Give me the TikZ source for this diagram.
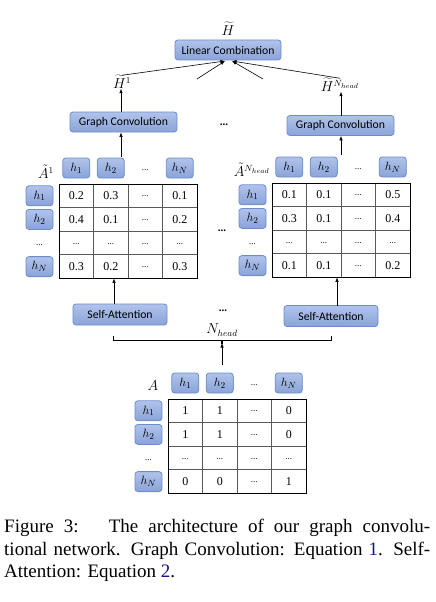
\documentclass[tikz,border=0pt]{standalone}
\usepackage{fontspec}
\usetikzlibrary{arrows.meta}
\setmainfont{Liberation Serif}
\newfontfamily\boxfont{Carlito}
\definecolor{boxtop}{RGB}{176,195,234}
\definecolor{boxbot}{RGB}{138,163,216}
\definecolor{boxline}{RGB}{108,140,204}
\definecolor{reflink}{RGB}{20,20,140}
\newcommand\dd{\raisebox{-2.5pt}{\fontsize{9}{10}\selectfont...}}
\tikzset{
  bluebox/.style={draw=boxline, line width=0.8pt, rounded corners=3pt, top color=boxtop, bottom color=boxbot, inner sep=0pt, font=\boxfont\fontsize{11.7}{13}\selectfont},
  hbox/.style={bluebox, minimum width=27pt, minimum height=20pt, font=\fontsize{12.5}{14}\selectfont},
  conn/.style={line width=0.6pt, -{Latex[length=4.5pt,width=3.5pt]}},
  gridin/.style={line width=0.9pt, black!65},
  gridout/.style={line width=1pt, black},
  cell/.style={font=\fontsize{12}{14}\selectfont, inner sep=0pt},
  dcell/.style={font=\fontsize{9}{10}\selectfont, inner sep=0pt},
  mlab/.style={font=\fontsize{13.5}{15}\selectfont, inner sep=0pt},
  captext/.style={font=\fontsize{19}{22}\selectfont, inner sep=0pt, anchor=base west}
}
% #1 prefix, #2 x0, #3 y0, #4 values (16 entries)
\newcommand\mymatrix[4]{%
  \begin{scope}[shift={(#2,#3)}]
    \foreach \k in {1,2,3}{\draw[gridin] (34.5*\k,0) -- (34.5*\k,94.4);}
    \foreach \k in {1,2,3}{\draw[gridin] (0,23.6*\k) -- (138,23.6*\k);}
    \draw[gridout] (0,0) rectangle (138,94.4);
    \foreach \v [count=\i from 0] in {#4}{%
      \pgfmathtruncatemacro\cc{mod(\i,4)}%
      \pgfmathtruncatemacro\rr{int(\i/4)}%
      \node[cell] (#1c\i) at (17.25+34.5*\cc, 11.8+23.6*\rr) {\v};}
    \node[hbox] (#1col1) at (17.25,-16) {$h_1$};
    \node[hbox] (#1col2) at (51.75,-16) {$h_2$};
    \node[dcell] (#1col3) at (86.25,-14) {...};
    \node[hbox] (#1col4) at (120.75,-16) {$h_N$};
    \node[hbox] (#1row1) at (-19.5,11.8) {$h_1$};
    \node[hbox] (#1row2) at (-19.5,35.4) {$h_2$};
    \node[dcell] (#1row3) at (-19.5,61) {...};
    \node[hbox] (#1row4) at (-19.5,82.6) {$h_N$};
    \coordinate (#1bot) at (0,94.4);
  \end{scope}}
\begin{document}
\begin{tikzpicture}[x=1pt,y=-1pt]
\useasboundingbox (0,0) rectangle (436,602);
% top
\node[mlab] (Ht) at (228,29) {$\widetilde{H}$};
\node[bluebox, minimum width=106pt, minimum height=20pt] (LC) at (228,50) {Linear Combination};
\node[mlab] (H1) at (122,82) {$\widetilde{H}^1$};
\node[mlab] (HN) at (340,85) {$\widetilde{H}^{N_{head}}$};
\coordinate (m1) at (197,79);
\coordinate (m2) at (263,79);
\coordinate (tipL) at (225,61);
\coordinate (tipR) at (232,61);
\draw[conn] (H1.north) -- (tipL);
\draw[conn] (m1) -- (tipL);
\draw[conn] (m2) -- (tipR);
\draw[conn] (HN.north) -- (tipR);
% graph convolution
\node[bluebox, minimum width=107pt, minimum height=20pt] (GC1) at (123.5,122) {Graph Convolution};
\node[bluebox, minimum width=107pt, minimum height=20pt] (GC2) at (340.5,125.5) {Graph Convolution};
\node[font=\bfseries\fontsize{11}{12}\selectfont] (dots1) at (224,125) {...};
\coordinate (gc1t) at (121,112);
\coordinate (gcNt) at (341,115.5);
\draw[conn] (gc1t) -- (gc1t |- H1.south);
\draw[conn] (gcNt) -- (gcNt |- HN.south);
% matrices
\mymatrix{L}{59}{184}{0.2,0.3,\dd,0.1,0.4,0.1,\dd,0.2,\dd,\dd,\dd,\dd,0.3,0.2,\dd,0.3}
\mymatrix{R}{272}{183}{0.1,0.1,\dd,0.5,0.3,0.1,\dd,0.4,\dd,\dd,\dd,\dd,0.1,0.1,\dd,0.2}
\mymatrix{B}{168}{399}{1,1,\dd,0,1,1,\dd,0,\dd,\dd,\dd,\dd,0,0,\dd,1}
\node[mlab, anchor=east] (AL) at (54,172) {$\tilde{A}^1$};
\node[mlab, anchor=east] (AR) at (270,170) {$\tilde{A}^{N_{head}}$};
\node[mlab] (AB) at (153,386) {$A$};
\node[font=\bfseries\fontsize{11}{12}\selectfont] (dots2) at (222,231) {...};
\coordinate (gL) at (121,157);
\coordinate (gR) at (341,155);
\draw[conn] (gL) -- (gL |- GC1.south);
\draw[conn] (gR) -- (gR |- GC2.south);
% self-attention
\node[bluebox, minimum width=94pt, minimum height=21pt] (SA1) at (120,314.5) {Self-Attention};
\node[bluebox, minimum width=94pt, minimum height=21pt] (SA2) at (331,316) {Self-Attention};
\node[font=\bfseries\fontsize{11}{12}\selectfont] (dots3) at (223,311) {...};
\coordinate (sL) at (114,304);
\coordinate (sR) at (337,305.5);
\draw[conn] (sL) -- (sL |- Lbot);
\draw[conn] (sR) -- (sR |- Rbot);
% bracket
\node[mlab] (Nh) at (222,330) {$N_{head}$};
\coordinate (bl) at (113,336);
\coordinate (br) at (331,336);
\coordinate (bm) at (222,340);
\draw[line width=1pt] (bl) -- (113,340) -- (331,340) -- (br);
\draw[line width=1.6pt] (bm) -- (222,344);
\coordinate (bs) at (222,365);
\draw[conn] (bs) -- (222,343);
% caption
\node[captext] (c1) at (4,532) {\makebox[426pt][s]{Figure 3:\ \ \ The architecture of our graph convolu-}};
\node[captext] (c2) at (4,555) {\makebox[426pt][s]{tional network. Graph Convolution: Equation \textcolor{reflink}{1}. Self-}};
\node[captext] (c3) at (4,577) {Attention: Equation \textcolor{reflink}{2}.};
\end{tikzpicture}
\end{document}
